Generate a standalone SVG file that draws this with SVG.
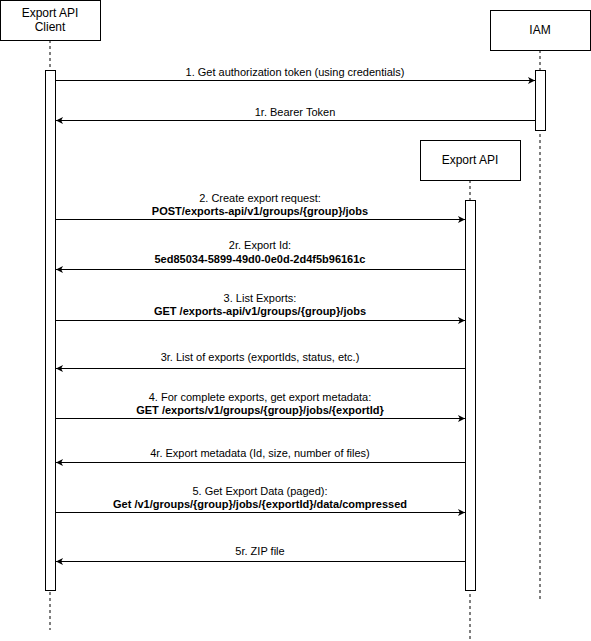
<svg xmlns="http://www.w3.org/2000/svg" width="591" height="641" viewBox="0 0 591 641">
<style>
.box{fill:#fff;stroke:#000;stroke-width:1}
.life{stroke:#000;stroke-width:1;stroke-dasharray:3 3;fill:none}
.act{fill:#fff;stroke:#000;stroke-width:1}
.msg{stroke:#000;stroke-width:1;fill:none}
.h{font-family:"Liberation Sans",Arial,sans-serif;font-size:12px;fill:#000;text-anchor:middle}
.l{font-family:"Liberation Sans",Arial,sans-serif;font-size:11px;fill:#000;text-anchor:middle}
.b{font-weight:bold}
</style>
<defs>
<marker id="ah" markerWidth="8" markerHeight="8" refX="7" refY="4" orient="auto" markerUnits="userSpaceOnUse">
<path d="M0,0.5 L7,4 L0,7.5 L1.8,4 Z" fill="#000"/>
</marker>
</defs>
<rect width="591" height="641" fill="#fff"/>
<g id="client">
<line class="life" x1="50" y1="40" x2="50" y2="630"/>
<rect class="box" x="0.5" y="0.5" width="100" height="40"/>
<text class="h" x="50" y="17">Export API</text>
<text class="h" x="50" y="31">Client</text>
<rect class="act" x="45.5" y="70.5" width="10" height="520"/>
</g>
<g id="iam">
<line class="life" x1="540" y1="50" x2="540" y2="600"/>
<rect class="box" x="490.5" y="10.5" width="100" height="40"/>
<text class="h" x="540" y="34">IAM</text>
<rect class="act" x="535.5" y="70.5" width="10" height="60"/>
</g>
<g id="exportapi">
<line class="life" x1="470" y1="180" x2="470" y2="640"/>
<rect class="box" x="420.5" y="140.5" width="100" height="40"/>
<text class="h" x="470" y="164">Export API</text>
<rect class="act" x="465.5" y="200.5" width="10" height="390"/>
</g>
<g id="connectors">
<line class="msg" x1="55.5" y1="80.5" x2="535" y2="80.5" marker-end="url(#ah)"/>
<text class="l" x="295" y="76">1. Get authorization token (using credentials)</text>
<line class="msg" x1="535.5" y1="120.5" x2="56" y2="120.5" marker-end="url(#ah)"/>
<text class="l" x="295" y="116">1r. Bearer Token</text>

<line class="msg" x1="55.5" y1="219.5" x2="465" y2="219.5" marker-end="url(#ah)"/>
<text class="l" x="260" y="202">2. Create export request:</text>
<text class="l b" x="260" y="215">POST/exports-api/v1/groups/{group}/jobs</text>
<line class="msg" x1="465.5" y1="269.5" x2="56" y2="269.5" marker-end="url(#ah)"/>
<text class="l" x="260" y="249">2r. Export Id:</text>
<text class="l b" x="260" y="263">5ed85034-5899-49d0-0e0d-2d4f5b96161c</text>

<line class="msg" x1="55.5" y1="320.5" x2="465" y2="320.5" marker-end="url(#ah)"/>
<text class="l" x="260" y="302">3. List Exports:</text>
<text class="l b" x="260" y="315">GET /exports-api/v1/groups/{group}/jobs</text>
<line class="msg" x1="465.5" y1="368.5" x2="56" y2="368.5" marker-end="url(#ah)"/>
<text class="l" x="260" y="361">3r. List of exports (exportIds, status, etc.)</text>

<line class="msg" x1="55.5" y1="418.5" x2="465" y2="418.5" marker-end="url(#ah)"/>
<text class="l" x="260" y="401">4. For complete exports, get export metadata:</text>
<text class="l b" x="260" y="414">GET /exports/v1/groups/{group}/jobs/{exportId}</text>
<line class="msg" x1="465.5" y1="462.5" x2="56" y2="462.5" marker-end="url(#ah)"/>
<text class="l" x="260" y="457">4r. Export metadata (Id, size, number of files)</text>

<line class="msg" x1="55.5" y1="512.5" x2="465" y2="512.5" marker-end="url(#ah)"/>
<text class="l" x="260" y="495">5. Get Export Data (paged):</text>
<text class="l b" x="260" y="508">Get /v1/groups/{group}/jobs/{exportId}/data/compressed</text>
<line class="msg" x1="465.5" y1="561.5" x2="56" y2="561.5" marker-end="url(#ah)"/>
<text class="l" x="260" y="555">5r. ZIP file</text>
</g>
</svg>
